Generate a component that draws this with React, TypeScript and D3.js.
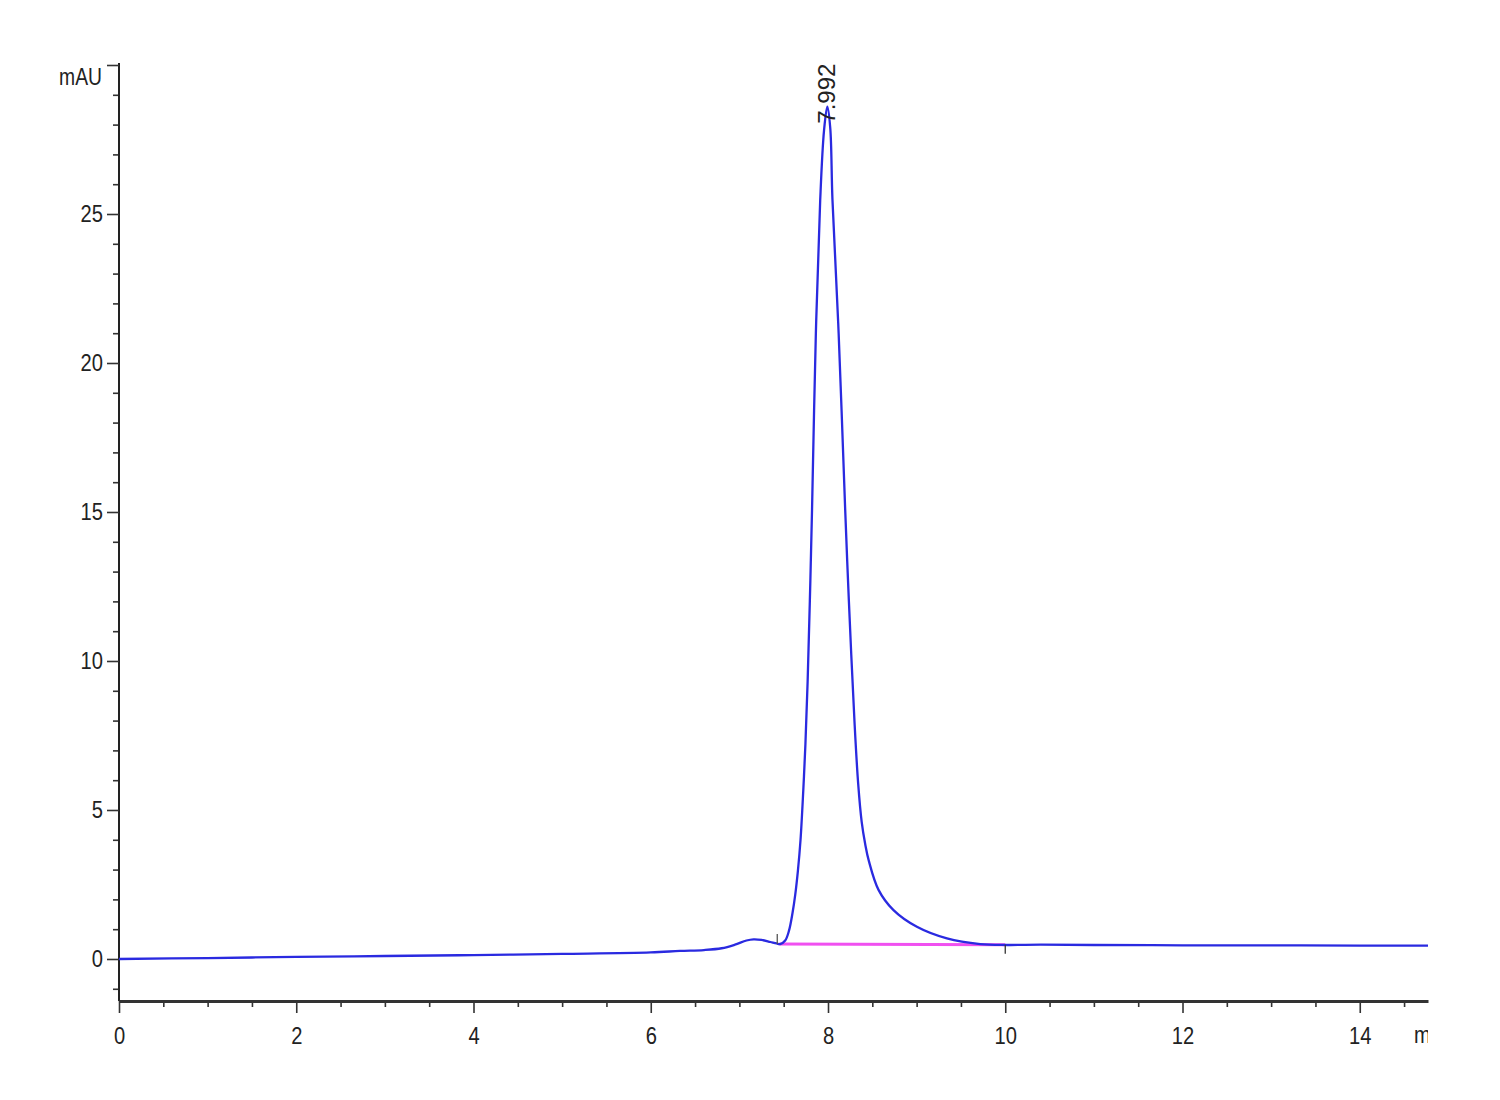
import React, { useRef, useEffect } from 'react';
import * as d3 from 'd3';

// retention time (min) and absorbance (mAU)
const times = [0, 1, 2, 3, 4, 5, 6, 6.33, 6.6, 6.8, 6.95, 7.08, 7.16, 7.25, 7.35, 7.42, 7.46, 7.517, 7.56, 7.6, 7.63, 7.66, 7.69, 7.72, 7.745, 7.77, 7.795, 7.82, 7.863, 7.912, 7.955, 7.992, 8.025, 8.05, 8.12, 8.194, 8.235, 8.3, 8.34, 8.38, 8.42, 8.46, 8.57, 8.739, 9.003, 9.342, 9.718, 10.02, 10.4, 11, 12, 13, 14, 14.77];
const signal = [0, 0.03, 0.07, 0.1, 0.13, 0.17, 0.22, 0.27, 0.3, 0.36, 0.48, 0.62, 0.66, 0.64, 0.57, 0.52, 0.5, 0.62, 0.95, 1.55, 2.15, 2.95, 4.0, 5.6, 7.2, 9.3, 12.0, 15.1, 21.0, 25.47, 27.8, 28.6, 27.9, 25.5, 21.0, 15.07, 12.05, 7.9, 5.9, 4.6, 3.85, 3.3, 2.32, 1.64, 1.08, 0.69, 0.5, 0.47, 0.48, 0.47, 0.46, 0.46, 0.45, 0.45];

// integration baseline: [start, end] times and levels
const baselineTimes = [7.45, 10.0];
const baselineLevels = [0.5, 0.48];

const peakTime = 7.992;
const peakHeight = 28.6;
const peakLabel = '7.992';

const xMajorTicks = [0, 2, 4, 6, 8, 10, 12, 14];
const yMajorTicks = [0, 5, 10, 15, 20, 25];
const yAxisLabel = 'mAU';
const xAxisLabel = 'min';

const xDomain = [0, 14.77];
const yDomain = [-1.41, 30];

// no narrow font installed, so squeeze the regular one
const narrow = 0.84;

const App: React.FC = () => {
    const svgRef = useRef<SVGSVGElement | null>(null);

    useEffect(() => {
        if (!svgRef.current) return;
        const width = 1500;
        const height = 1100;
        const left = 119, right = 1428, top = 65, bottom = 1001;
        const font = "'Liberation Sans', Arial, sans-serif";

        const x = d3.scaleLinear().domain(xDomain).range([left, right]);
        const y = d3.scaleLinear().domain(yDomain).range([bottom, top]);

        const svg = d3.select(svgRef.current);
        svg.selectAll('*').remove();
        svg.attr('width', width).attr('height', height);

        svg.append('defs').append('clipPath').attr('id', 'plotclip')
            .append('rect').attr('x', 0).attr('y', 0).attr('width', right).attr('height', height);

        const squeeze = (sel: d3.Selection<any, any, any, any>) => {
            sel.each(function () {
                const t = d3.select(this);
                const x0 = +(t.attr('x') || 0);
                t.attr('x', x0 / narrow).attr('transform', `scale(${narrow},1)`);
            });
        };

        // minor ticks first
        const yMinor = d3.range(-1, 30, 1).filter(v => v % 5 !== 0);
        svg.append('g')
            .attr('transform', `translate(${left},0)`)
            .call(d3.axisLeft(y).tickValues(yMinor).tickSize(6).tickFormat(() => ''))
            .call(g => g.select('.domain').remove())
            .call(g => g.selectAll('line').attr('stroke', '#333').attr('stroke-width', 1.6));

        const yAxis = svg.append('g')
            .attr('transform', `translate(${left},0)`)
            .call(d3.axisLeft(y).tickValues([...yMajorTicks, 30]).tickSize(12).tickSizeOuter(0).tickPadding(4)
                .tickFormat(d => (+d === 30 ? '' : String(d))));
        yAxis.select('.domain').attr('d', `M0,${top - 2}V${bottom}`).attr('stroke', '#222').attr('stroke-width', 2);
        yAxis.selectAll('line').attr('stroke', '#333').attr('stroke-width', 1.6);
        yAxis.selectAll('text').attr('font-family', font).attr('font-size', 24).attr('fill', '#222');
        squeeze(yAxis.selectAll('text'));

        const xMinor = d3.range(0, 14.77, 0.5).filter(v => v % 2 !== 0);
        svg.append('g')
            .attr('transform', `translate(0,${bottom})`)
            .call(d3.axisBottom(x).tickValues(xMinor).tickSize(6).tickFormat(() => ''))
            .call(g => g.select('.domain').remove())
            .call(g => g.selectAll('line').attr('stroke', '#333').attr('stroke-width', 1.6));

        const xAxis = svg.append('g')
            .attr('transform', `translate(0,${bottom})`)
            .call(d3.axisBottom(x).tickValues(xMajorTicks).tickSize(12).tickSizeOuter(0).tickPadding(14)
                .tickFormat(d => String(d)));
        xAxis.select('.domain').attr('stroke', '#333').attr('stroke-width', 3);
        xAxis.selectAll('line').attr('stroke', '#333').attr('stroke-width', 1.6);
        xAxis.selectAll('text').attr('font-family', font).attr('font-size', 24).attr('fill', '#222');
        squeeze(xAxis.selectAll('text'));

        // axis titles
        svg.append('text')
            .attr('x', (left - 17) / narrow).attr('y', top + 20)
            .attr('transform', `scale(${narrow},1)`)
            .attr('text-anchor', 'end')
            .attr('font-family', font).attr('font-size', 23).attr('fill', '#222')
            .text(yAxisLabel);

        svg.append('g')
            .attr('clip-path', 'url(#plotclip)')
            .append('text')
            .attr('x', (right - 14) / narrow).attr('y', bottom + 42)
            .attr('transform', `scale(${narrow},1)`)
            .attr('font-family', font).attr('font-size', 24).attr('fill', '#222')
            .text(xAxisLabel);

        // trace
        const pts = times.map((t, i) => [t, signal[i]] as [number, number]);
        const line = d3.line<[number, number]>()
            .x(d => x(d[0]))
            .y(d => y(d[1]))
            .curve(d3.curveCatmullRom.alpha(0.5));

        const bl = baselineTimes.map((t, i) => [t, baselineLevels[i]] as [number, number]);
        svg.append('path')
            .attr('d', d3.line<[number, number]>().x(d => x(d[0])).y(d => y(d[1]))(bl))
            .attr('fill', 'none')
            .attr('stroke', '#f050f0')
            .attr('stroke-width', 3);

        svg.append('path')
            .attr('d', line(pts))
            .attr('fill', 'none')
            .attr('stroke', '#2a2ae0')
            .attr('stroke-width', 2.3)
            .attr('stroke-linejoin', 'round');

        // peak start / end markers
        svg.append('line')
            .attr('x1', x(baselineTimes[0]) - 2).attr('x2', x(baselineTimes[0]) - 2)
            .attr('y1', y(baselineLevels[0]) - 10).attr('y2', y(baselineLevels[0]))
            .attr('stroke', '#555').attr('stroke-width', 1.3);
        svg.append('line')
            .attr('x1', x(baselineTimes[1])).attr('x2', x(baselineTimes[1]))
            .attr('y1', y(baselineLevels[1])).attr('y2', y(baselineLevels[1]) + 9)
            .attr('stroke', '#333').attr('stroke-width', 1.3);

        // peak label
        const px = x(peakTime) + 8;
        const py = y(peakHeight) + 17;
        svg.append('text')
            .attr('transform', `translate(${px},${py}) rotate(-90)`)
            .attr('font-family', font)
            .attr('font-size', 24)
            .attr('fill', '#222')
            .text(peakLabel);
    }, []);

    return (
        <svg
            ref={svgRef}
            width={1500}
            height={1100}
            style={{ position: 'absolute', left: 0, top: 0, background: '#fff' }}
        />
    );
};

export default App;
